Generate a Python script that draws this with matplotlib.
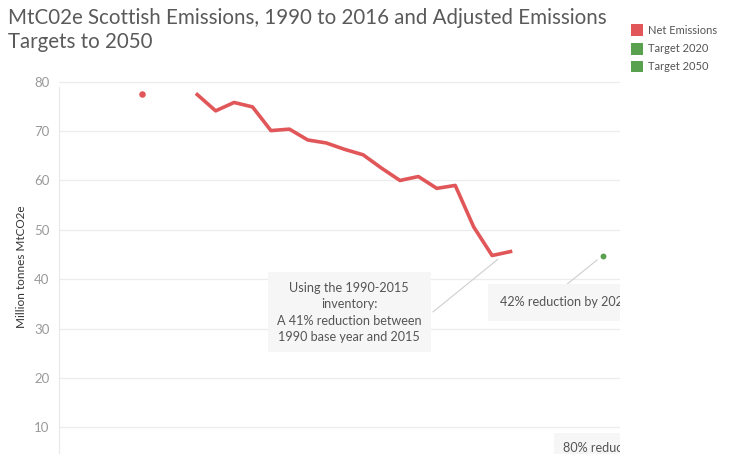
import matplotlib
matplotlib.use("Agg")
import matplotlib.pyplot as plt
from matplotlib.patches import Rectangle

# net emissions (MtCO2e)
base_year = 1995
base_value = 77.6
years = list(range(1998, 2016))
net = [77.4, 74.1, 75.8, 74.9, 70.1, 70.4, 68.2, 67.6, 66.3, 65.2,
       62.5, 60.0, 60.8, 58.4, 59.0, 50.6, 44.8, 45.6]
target_2020_year = 2020
target_2020 = 44.7

yticks = [10, 20, 30, 40, 50, 60, 70, 80]
legend_labels = ["Net Emissions", "Target 2020", "Target 2050"]

red = "#e15759"
green = "#59a14f"
grey_txt = "#555555"

plt.rcParams['font.family'] = ['Lato', 'DejaVu Sans']

W, H = 736, 454
fig = plt.figure(figsize=(W / 100, H / 100), dpi=100)
ax = fig.add_axes([59 / W, 0, (620 - 59) / W, (454 - 80) / H])

ax.plot(years, net, color=red, lw=2.6, solid_joinstyle='round', zorder=3)
ax.scatter([base_year], [base_value], s=22, color=red, zorder=3, linewidths=0)
ax.scatter([target_2020_year], [target_2020], s=18, color=green, zorder=3, linewidths=0)

ax.set_xlim(1990.5, 2020.94)
ax.set_ylim(4.6, 80.35)
ax.set_yticks(yticks)
ax.set_xticks([])
ax.grid(axis='y', color='#ececec', lw=0.9)
ax.set_axisbelow(True)
for s in ['top', 'right', 'bottom']:
    ax.spines[s].set_visible(False)
ax.spines['left'].set_color('#e8e8e8')
ax.spines['left'].set_bounds(4.6, 79.0)
ax.tick_params(axis='y', length=0, labelsize=9.5, labelcolor='#9a9a9a', pad=7)
ax.set_ylabel("Million tonnes MtCO2e", fontsize=8.5, color='#333333', labelpad=5)

# annotation 1
ax.plot([2010.8, 2014.3], [33.4, 44.0], color='#cfcfcf', lw=0.8, zorder=2)
ax.text(2006.25, 33.3, "Using the 1990-2015\ninventory:\nA 41% reduction between\n1990 base year and 2015",
        ha='center', va='center', fontsize=9.1, color=grey_txt, linespacing=1.45,
        bbox=dict(boxstyle='square,pad=0.72', fc='#f6f6f6', ec='none'), zorder=4)

# annotation 2
ax.plot([2018.0, 2019.7], [38.8, 43.9], color='#cfcfcf', lw=0.8, zorder=2)
t2 = ax.text(2014.45, 35.3, "42% reduction by 2020", ha='left', va='center',
             fontsize=9.1, color=grey_txt, bbox=dict(boxstyle='square,pad=1.0', fc='#f6f6f6', ec='none'),
             zorder=4)

# annotation 3
t3 = ax.text(2017.85, 5.8, "80% reduction by 2050", ha='left', va='center',
             fontsize=9.1, color=grey_txt, bbox=dict(boxstyle='square,pad=0.7', fc='#f6f6f6', ec='none'),
             zorder=4)

for t in (t2, t3):
    t.set_clip_on(True)
    t.set_clip_box(ax.bbox)
    t.get_bbox_patch().set_clip_box(ax.bbox)
    t.get_bbox_patch().set_clip_on(True)

fig.text(8 / W, 1 - 30 / H, "MtC02e Scottish Emissions, 1990 to 2016 and Adjusted Emissions\nTargets to 2050",
         ha='left', va='center', fontsize=14.8, color='#5a5a5a', linespacing=1.3)

# legend
leg_colors = [red, green, green]
leg_y = [30, 48.8, 66.7]
for lab, c, yy in zip(legend_labels, leg_colors, leg_y):
    fig.add_artist(Rectangle((631 / W, 1 - (yy + 5.7) / H), 11.5 / W, 11.5 / H,
                             transform=fig.transFigure, fc=c, ec='none'))
    fig.text(648 / W, 1 - yy / H, lab, ha='left', va='center', fontsize=8, color=grey_txt)

fig.savefig("out.png", dpi=100, facecolor='white')
